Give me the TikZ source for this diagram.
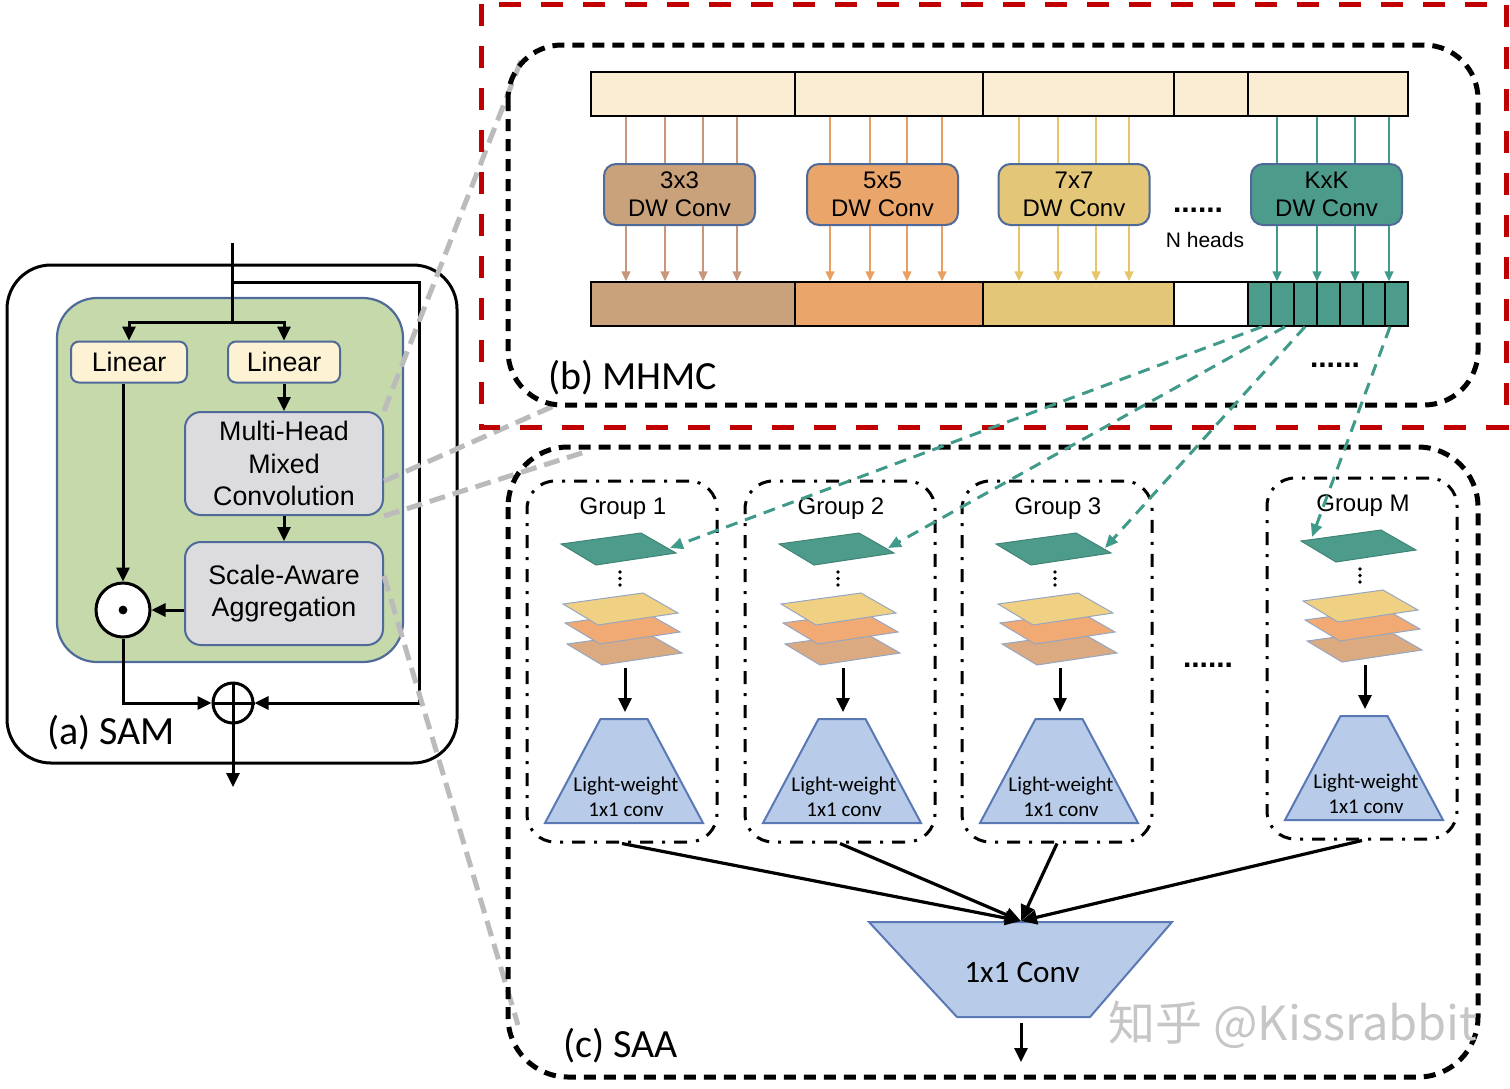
\documentclass[tikz,border=0pt]{standalone}
\usepackage{fontspec}
\setmainfont{Liberation Sans}
\newfontfamily\calib{Carlito}
\newfontfamily\cjk{Noto Sans CJK SC}
\usetikzlibrary{arrows.meta,calc}

\definecolor{samgreen}{HTML}{C5D9AB}
\definecolor{boxline}{HTML}{4F6A99}
\definecolor{lincream}{HTML}{FDF2D3}
\definecolor{mixgray}{HTML}{DCDCDE}
\definecolor{barcream}{HTML}{FAEDD3}
\definecolor{htan}{HTML}{C9A17A}
\definecolor{horange}{HTML}{E9A56A}
\definecolor{hyellow}{HTML}{E4C679}
\definecolor{hteal}{HTML}{4C9B8B}
\definecolor{tanarr}{HTML}{C8967A}
\definecolor{orangearr}{HTML}{E99F62}
\definecolor{yellowarr}{HTML}{E7C468}
\definecolor{tealarr}{HTML}{3F9A89}
\definecolor{lyellow}{HTML}{F0D083}
\definecolor{lorange}{HTML}{F2AA74}
\definecolor{ltan}{HTML}{DCAA80}
\definecolor{convblue}{HTML}{B8CCE9}
\definecolor{convline}{HTML}{5A78B4}
\definecolor{redline}{HTML}{C00000}
\definecolor{zoomgray}{HTML}{BBBBBB}

\tikzset{
  blk/.style={line width=1.5pt},
  arr/.style={blk,-{Triangle[length=7pt,width=6.5pt]}},
  bigarr/.style={line width=1.6pt,-{Triangle[length=8pt,width=7pt]}},
  linbox/.style={draw=boxline,line width=1pt,fill=lincream,rounded corners=4pt,
    minimum height=20.5pt,font=\fontsize{13.4}{16}\selectfont},
  mixbox/.style={draw=boxline,line width=1pt,fill=mixgray,rounded corners=8pt,
    minimum width=99pt,minimum height=51.5pt,align=center,font=\fontsize{13.4}{16.2}\selectfont},
  dwbox/.style={draw=boxline,line width=1pt,rounded corners=6pt,minimum width=75.5pt,
    minimum height=30.5pt,align=center,font=\fontsize{12}{14}\selectfont},
  headarr/.style={line width=0.75pt,-{Triangle[length=5pt,width=4.5pt]}},
  tealdash/.style={draw=tealarr,line width=1.5pt,dash pattern=on 6pt off 4pt,
    -{Triangle[length=6.5pt,width=5.5pt]}},
  zoomline/.style={draw=zoomgray,line width=2.5pt,dash pattern=on 8pt off 4pt},
  panel/.style={line width=2.5pt,dash pattern=on 6pt off 4pt},
  grouppanel/.style={draw,line width=1.5pt,dash pattern=on 6.5pt off 4.5pt on 1.5pt off 4.5pt,
    rounded corners=14pt,minimum width=95pt,minimum height=180.5pt},
  tealayer/.style={fill=hteal,draw=hteal!85!black,line width=0.5pt},
  yellowlayer/.style={fill=lyellow,draw=boxline!60,line width=0.5pt},
  orangelayer/.style={fill=lorange,draw=boxline!60,line width=0.5pt},
  tanlayer/.style={fill=ltan,draw=boxline!60,line width=0.5pt},
  trap/.style={fill=convblue,draw=convline,line width=1pt},
  sublab/.style={font=\calib\fontsize{20}{24}\selectfont},
  lwtext/.style={align=center,font=\calib\fontsize{10.5}{12.5}\selectfont},
  moredots/.style={font=\bfseries\fontsize{15}{16}\selectfont},
}

\newcommand{\featlayer}[3]{\draw[#3] (#1,#2) -- ++(80,-11) -- ++(35,20) -- ++(-80,12) -- cycle;}

\begin{document}
\begin{tikzpicture}[x=0.5pt,y=-0.5pt]
  \useasboundingbox (0,0) rectangle (1510,1088);

  %(a) SAM block
  \draw[blk,rounded corners=22pt] (7,265) rectangle (457,763);
  \draw[draw=boxline,line width=1.1pt,fill=samgreen,rounded corners=20pt] (57,298) rectangle (403,662);
  \node[linbox,minimum width=58pt] (lin1) at (129,362) {Linear};
  \node[linbox,minimum width=56pt] (lin2) at (284,362) {Linear};
  \node[mixbox] (mhmc) at (284,463.5) {Multi-Head\\Mixed\\Convolution};
  \node[mixbox] (saa) at (284,593.5) {Scale-Aware\\Aggregation};
  \node[blk,draw,fill=white,circle,minimum size=27pt,inner sep=0] (mul) at (123,610) {};
  \fill (mul.center) circle (2.2pt);
  \node[blk,draw,circle,minimum size=20pt,inner sep=0] (add) at (233,703) {};
  \draw[blk] (add.north) -- (add.south) (add.west) -- (add.east);
  \coordinate (in) at (232,243);
  \coordinate (split) at (232,322);
  \coordinate (skip) at (232,282);
  \coordinate (skipturn) at (419,703);
  \coordinate (out) at (233,787);

  %arrows of SAM
  \draw[blk] (in) -- (split);
  \draw[arr] (split) -| (lin1.north);
  \draw[arr] (split) -| (lin2.north);
  \draw[arr] (skip) -| (skipturn) -- (add.east);
  \draw[arr] (lin1.south -| mul) -- (mul.north);
  \draw[arr] (lin2) -- (mhmc);
  \draw[arr] (mhmc) -- (saa);
  \draw[arr] (saa.west |- mul) -- (mul.east);
  \draw[arr] (mul.south) |- (add.west);
  \draw[arr] (add.south) -- (out);
  \node[sublab,anchor=west] (samlab) at (40,733) {(a) SAM};

  %zoom lines
  \coordinate (bcorner1) at (522,58);
  \coordinate (bcorner2) at (556,405);
  \coordinate (ccorner1) at (585,452);
  \coordinate (ccorner2) at (518,1025);
  \draw[zoomline] (mhmc.north east) -- (bcorner1);
  \draw[zoomline] (mhmc.-10) -- (bcorner2);
  \draw[zoomline] (mhmc.south east) -- (ccorner1);
  \draw[zoomline] (saa.10) -- (ccorner2);

  %(b) MHMC
  \draw[redline,line width=2.5pt,dash pattern=on 11pt off 10pt] (481,4) rectangle (1506,427);
  \draw[panel,rounded corners=27pt] (508,45) rectangle (1478,405);
  \node[sublab,anchor=west] (mhmclab) at (541,378) {(b) MHMC};

  \node[draw,line width=0.75pt,fill=barcream,minimum width=408.5pt,minimum height=22pt,inner sep=0] (tbar) at (999.5,94) {};
  \foreach \x in {795,983,1174,1248}
     \draw[line width=0.75pt] (\x,72) -- (\x,116);

  \fill[htan] (591,282) rectangle (795,326);
  \fill[horange] (795,282) rectangle (983,326);
  \fill[hyellow] (983,282) rectangle (1174,326);
  \fill[hteal] (1248,282) rectangle (1408,326);
  \node[draw,line width=0.75pt,minimum width=408.5pt,minimum height=22pt,inner sep=0] (bbar) at (999.5,304) {};
  \foreach \x in {795,983,1174,1248,1271,1294,1317,1340,1363,1385}
     \draw[line width=0.75pt] (\x,282) -- (\x,326);

  \node[dwbox,fill=htan] (dw3) at (679.5,194.5) {3x3\\DW Conv};
  \node[dwbox,fill=horange] (dw5) at (882.5,194.5) {5x5\\DW Conv};
  \node[dwbox,fill=hyellow] (dw7) at (1074,194.5) {7x7\\DW Conv};
  \node[dwbox,fill=hteal] (dwk) at (1326.5,194.5) {KxK\\DW Conv};

  \foreach \dwname/\hue/\xs in {dw3/tanarr/{626,665,703,737},dw5/orangearr/{830,870,907,942},
                                dw7/yellowarr/{1019,1058,1096,1129},dwk/tealarr/{1277,1317,1355,1389}}
     \foreach \x in \xs {
        \draw[\hue,line width=0.75pt] (\x,0 |- tbar.south) -- (\x,0 |- \dwname.north);
        \draw[headarr,\hue] (\x,0 |- \dwname.south) -- (\x,0 |- bbar.north);
     }

  \node[moredots] (hdots) at (1198,210) {......};
  \node[font=\fontsize{10.5}{12}\selectfont] (nheads) at (1205,240) {N heads};
  \node[moredots] (kdots) at (1335,365) {......};

  %(c) SAA
  \draw[panel,rounded corners=30pt] (508,447) rectangle (1478,1077);
  \node[sublab,anchor=west] (saalab) at (556,1046) {(c) SAA};

  \foreach \nm/\dx/\dy in {1/0/0,2/218/0,3/435/0,M/740/-3} {
     \node[grouppanel] (g\nm) at (622+\dx,661.5+\dy) {};
     \node[font=\fontsize{12}{14}\selectfont] (gl\nm) at (623+\dx,509+\dy) {Group \nm};
     \featlayer{561+\dx}{544+\dy}{tealayer}
     %vertical dots
     \foreach \vy in {572,578.5,585}
        \fill (620+\dx,\vy+\dy) circle (0.9pt);
     \featlayer{567+\dx}{644+\dy}{tanlayer}
     \featlayer{565+\dx}{623+\dy}{orangelayer}
     \featlayer{563+\dx}{604+\dy}{yellowlayer}
     \coordinate (st\nm) at (625+\dx,668+\dy);
     \coordinate (lt\nm) at (625+\dx,712+\dy);
     \draw[arr] (st\nm) -- (lt\nm);
     \draw[trap] (600.5+\dx,719+\dy) -- (647.5+\dx,719+\dy) -- (703+\dx,823+\dy) -- (545+\dx,823+\dy) -- cycle;
     \node[lwtext] (lw\nm) at (626+\dx,797+\dy) {Light-weight\\1x1 conv};
     \coordinate (tip\nm) at (670+\dx,548+\dy);
  }
  \coordinate (tipM) at (1312,537);
  \node[moredots] (gdots) at (1208,665) {......};

  %teal dashed links
  \draw[tealdash] (1262,0 |- bbar.south) -- (tip1);
  \draw[tealdash] (1285,0 |- bbar.south) -- (tip2);
  \draw[tealdash] (1305,0 |- bbar.south) -- (tip3);
  \draw[tealdash] (1390,0 |- bbar.south) -- (tipM);

  %1x1 conv
  \draw[trap] (869,922) -- (1172,922) -- (1090,1017) -- (957,1017) -- cycle;
  \node[font=\calib\fontsize{15.6}{18}\selectfont] (conv) at (1022,972) {1x1 Conv};
  \coordinate (convtop) at (1021,921);
  \coordinate (convbot) at (1021,1023);
  \coordinate (convout) at (1021,1062);
  \foreach \nm in {1,2,3,M}
     \draw[bigarr] (g\nm.south) -- (convtop);
  \draw[arr] (convbot) -- (convout);

  \node[font=\cjk\fontsize{23.5}{26}\selectfont,text=gray!45] (mark) at (1293,1025) {知乎 @Kissrabbit};
\end{tikzpicture}
\end{document}
